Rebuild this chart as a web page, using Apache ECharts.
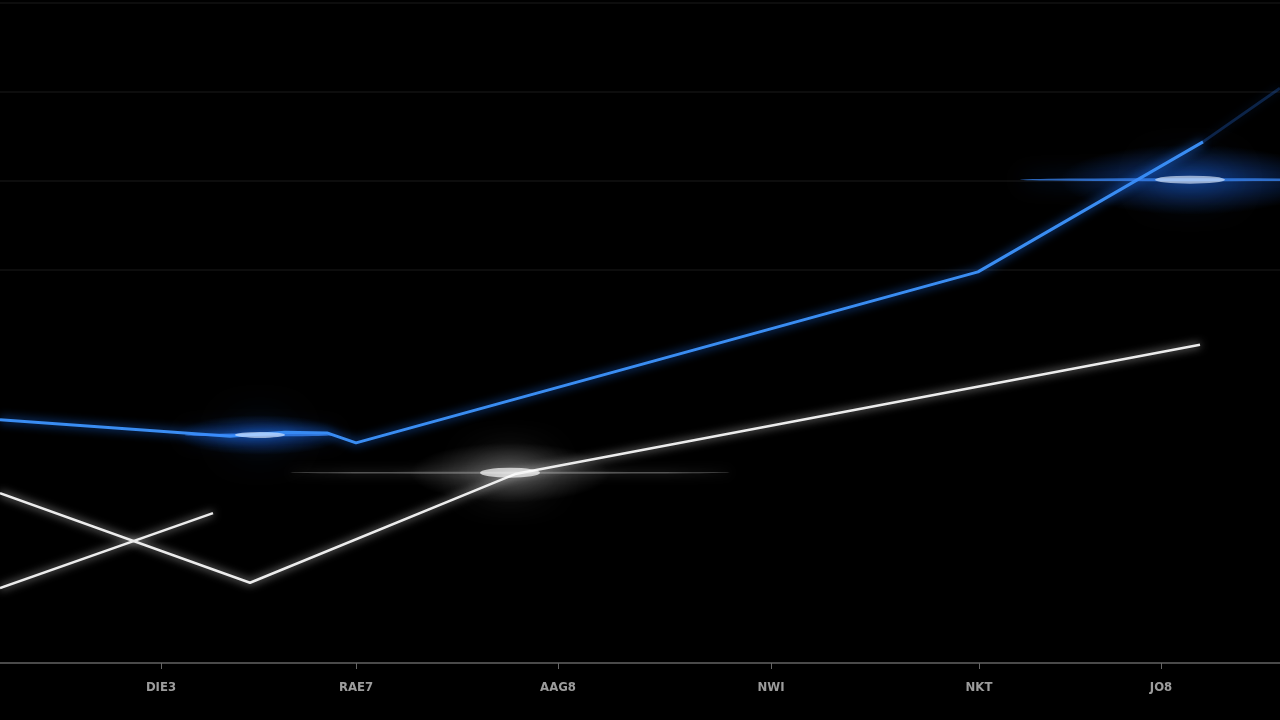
<!DOCTYPE html>
<html>
<head>
<meta charset="utf-8">
<script src="https://cdn.jsdelivr.net/npm/echarts@6/dist/echarts.min.js"></script>
<style>
html,body{margin:0;padding:0;background:#000;}
#c{width:1280px;height:720px;}
</style>
</head>
<body>
<div id="c"></div>
<script>
// Tick labels and their positions on the x scale
const tickLabels = ['DIE3', 'RAE7', 'AAG8', 'NWI', 'NKT', 'JO8'];
const tickPositions = [0, 0.975, 1.985, 3.05, 4.09, 5.0];

// Series values as [x, y]
const blueLine = [[-0.805, 36.7], [0.345, 34.2], [0.62, 34.8], [0.83, 34.7], [0.975, 33.2], [4.085, 59.0], [5.21, 78.6]];
const blueTail = [[5.21, 78.6], [5.595, 86.7]];
const whiteLineA = [[-0.805, 25.6], [0.445, 12.1], [1.77, 28.5], [5.195, 48.0]];
const whiteLineB = [[-0.805, 11.3], [0.26, 22.6]];

// Decorative lens flares [x, y]
const blueFlares = [[5.145, 72.9], [0.495, 34.4]];
const whiteFlares = [[1.745, 28.7]];

const halo = (r, g, b, a) => new echarts.graphic.RadialGradient(0.5, 0.5, 0.5, [
  { offset: 0, color: `rgba(${r},${g},${b},${a})` },
  { offset: 1, color: `rgba(${r},${g},${b},0)` }
]);

const chart = echarts.init(document.getElementById('c'));
chart.setOption({
  backgroundColor: '#000',
  animation: false,
  grid: [
    { left: 0, right: 0, top: 0, bottom: 57 },
    { left: 0, right: 0, top: 3, height: 267 }
  ],
  xAxis: [
    {
      gridIndex: 0, type: 'value', min: -0.805, max: 5.595,
      axisLine: { show: true, lineStyle: { color: '#4a4a4a', width: 2 } },
      axisTick: { show: true, customValues: tickPositions, length: 6, lineStyle: { color: '#666', width: 1 } },
      axisLabel: {
        customValues: tickPositions, margin: 18,
        formatter: v => {
          let best = 0;
          tickPositions.forEach((p, i) => { if (Math.abs(p - v) < Math.abs(tickPositions[best] - v)) best = i; });
          return tickLabels[best];
        },
        color: '#9c9c9c', fontSize: 13, fontWeight: 'bold', fontFamily: 'DejaVu Sans Condensed'
      },
      splitLine: { show: false }
    },
    { gridIndex: 1, type: 'value', min: 0, max: 1, show: false }
  ],
  yAxis: [
    { gridIndex: 0, type: 'value', min: 0, max: 100, show: false, splitLine: { show: false } },
    {
      gridIndex: 1, type: 'value', min: 0, max: 3, interval: 1,
      axisLine: { show: false }, axisTick: { show: false }, axisLabel: { show: false },
      splitLine: { show: true, lineStyle: { color: '#0d0d0d', width: 2 } }
    }
  ],
  series: [
    {
      type: 'scatter', data: blueFlares, z: 1, silent: true, symbol: 'circle',
      symbolSize: (v, p) => p.dataIndex === 0 ? [260, 70] : [170, 40],
      itemStyle: { color: halo(30, 110, 255, 0.55) }
    },
    {
      type: 'scatter', data: whiteFlares, z: 1, silent: true, symbol: 'circle',
      symbolSize: [200, 60],
      itemStyle: { color: halo(255, 255, 255, 0.35) }
    },
    {
      type: 'line', data: whiteLineB, symbol: 'none', z: 3,
      lineStyle: { color: '#ececec', width: 2.5, shadowColor: 'rgba(255,255,255,0.8)', shadowBlur: 8 }
    },
    {
      type: 'line', data: whiteLineA, symbol: 'none', z: 3,
      lineStyle: { color: '#ececec', width: 2.5, shadowColor: 'rgba(255,255,255,0.8)', shadowBlur: 8 }
    },
    {
      type: 'line', data: blueTail, symbol: 'none', z: 2,
      lineStyle: { color: 'rgba(40,110,220,0.3)', width: 3, shadowColor: 'rgba(40,110,230,0.6)', shadowBlur: 10 }
    },
    {
      type: 'line', data: blueLine, symbol: 'none', z: 4,
      lineStyle: { color: '#3a8df2', width: 3, shadowColor: 'rgba(30,120,255,0.9)', shadowBlur: 10 }
    },
    {
      type: 'scatter', data: blueFlares, z: 5, silent: true,
      symbol: 'circle',
      symbolSize: (v, p) => p.dataIndex === 0 ? [340, 3] : [150, 3],
      itemStyle: { color: 'rgba(60,140,255,0.9)', shadowColor: 'rgba(20,110,255,1)', shadowBlur: 20 }
    },
    {
      type: 'scatter', data: blueFlares, z: 6, silent: true,
      symbol: 'circle',
      symbolSize: (v, p) => p.dataIndex === 0 ? [70, 8] : [50, 6],
      itemStyle: { color: 'rgba(225,238,255,0.8)', shadowColor: 'rgba(30,120,255,1)', shadowBlur: 40 }
    },
    {
      type: 'scatter', data: whiteFlares, z: 5, silent: true,
      symbol: 'circle', symbolSize: [440, 2],
      itemStyle: { color: 'rgba(190,190,190,0.5)', shadowColor: 'rgba(255,255,255,0.9)', shadowBlur: 10 }
    },
    {
      type: 'scatter', data: whiteFlares, z: 6, silent: true,
      symbol: 'circle', symbolSize: [60, 10],
      itemStyle: { color: 'rgba(255,255,255,0.85)', shadowColor: 'rgba(255,255,255,1)', shadowBlur: 40 }
    }
  ]
});
</script>
</body>
</html>
